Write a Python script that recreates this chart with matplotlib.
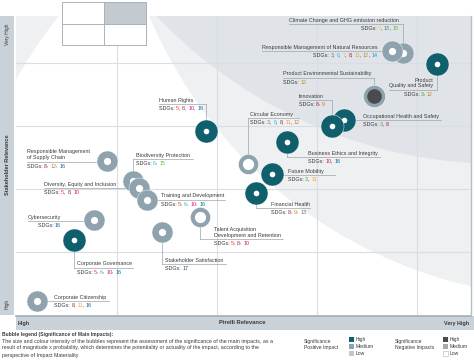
import numpy as np
import matplotlib.pyplot as plt
from matplotlib.patches import Rectangle, Circle

plt.rcParams['font.family'] = ['Liberation Sans', 'DejaVu Sans']

# material topics: Pirelli relevance (x) and stakeholder relevance (y)
topics = ["Climate Change", "Natural Resources", "Product Quality", "Product Env. Sust.",
          "Occupational H&S", "Innovation", "Human Rights", "Circular Economy",
          "Business Ethics", "Future Mobility", "Financial Health", "Talent Acquisition",
          "Stakeholder Satisfaction", "Biodiversity", "Diversity", "Training",
          "Supply Chain", "Cybersecurity", "Corporate Governance", "Corporate Citizenship"]
pirelli = [3.86, 3.75, 4.20, 3.57, 3.27, 3.15, 1.89, 2.31, 2.70, 2.55,
           2.39, 1.83, 1.45, 1.16, 1.22, 1.30, 0.90, 0.77, 0.57, 0.20]
stakeholder = [4.16, 4.19, 3.98, 3.48, 3.10, 3.00, 2.92, 2.40, 2.75, 2.24,
               1.94, 1.56, 1.32, 2.13, 2.02, 1.83, 2.44, 1.51, 1.19, 0.22]
significance = ["medium", "medium", "high", "negative", "high", "high", "high", "low",
                "high", "high", "high", "low", "medium", "medium", "medium", "medium",
                "medium", "medium", "high", "medium"]
sdgs = [[7, 13, 15], [3, 6, 7, 8, 11, 12, 14], [3, 12], [12], [3, 8], [8, 9],
        [5, 8, 10, 16], [3, 6, 8, 11, 12], [10, 16], [3, 11], [8, 9, 13], [5, 8, 10],
        [17], [6, 15], [5, 8, 10], [5, 6, 10, 16], [8, 12, 16], [16], [5, 6, 10, 16],
        [8, 11, 16]]

SDG_COL = {3: '#4C9F38', 5: '#FF3A21', 6: '#26BDE2', 7: '#FCC30B', 8: '#A21942',
           9: '#FD6925', 10: '#DD1367', 11: '#FD9D24', 12: '#BF8B2E', 13: '#5b7f60',
           14: '#0A97D9', 15: '#56C02B', 16: '#00689D', 17: '#19486A'}
# ring colour, outer radius px, hole colour, hole radius px
STYLE = {'high': ('#0f5f6d', 11.5, 'white', 2.8),
         'medium': ('#8ea3ad', 10.5, 'white', 3.6),
         'low': ('#8ea3ad', 10.0, 'white', 5.6),
         'negative': ('#8ea3ad', 11.0, '#4b4b4d', 7.3)}

# label layout (pixels): title lines, x, y of first line, align, sdg x, sdg align, underline span
LABELS = [
    (["Climate Change and GHG emission reduction"], 289, 20.7, 'left', 399, 'right', 289, 403),
    (["Responsible Management of Natural Resources"], 262, 47.3, 'left', 378, 'right', 262, 382),
    (["Product", "Quality and Safety"], 433, 80, 'right', 433, 'right', 389, 437),
    (["Product Environmental Sustainability"], 283, 74, 'left', 283, 'left', 283, 374),
    (["Occupational Health and Safety"], 363, 116.5, 'left', 363, 'left', 344, 441),
    (["Innovation"], 299, 96, 'left', 299, 'left', 299, 332),
    (["Human Rights"], 159, 100.5, 'left', 159, 'left', 159, 206),
    (["Circular Economy"], 250, 114.5, 'left', 250, 'left', 248, 299),
    (["Business Ethics and Integrity"], 308, 153.5, 'left', 308, 'left', 287, 380),
    (["Future Mobility"], 288, 171.5, 'left', 288, 'left', 272, 335),
    (["Financial Health"], 271, 204, 'left', 271, 'left', 256, 310),
    (["Talent Acquisition", "Development and Retention"], 214, 229, 'left', 214, 'left', 200, 283),
    (["Stakeholder Satisfaction"], 165, 260.5, 'left', 165, 'left', 162, 226),
    (["Biodiversity Protection"], 136, 155, 'left', 136, 'left', 133, 193),
    (["Diversity, Equity and Inclusion"], 44, 184.5, 'left', 44, 'left', 44, 139),
    (["Training and Development"], 161, 196, 'left', 161, 'left', 147, 225),
    (["Responsible Management", "of Supply Chain"], 27, 152, 'left', 27, 'left', 27, 107),
    (["Cybersecurity"], 28, 217, 'left', 61, 'right', 28, 94),
    (["Corporate Governance"], 77, 264, 'left', 77, 'left', 74, 133),
    (["Corporate Citizenship"], 54, 297.5, 'left', 54, 'left', 37, 109),
]

TXT = '#3a3a3a'
LIGHT = '#eef0f2'
DARK = '#e0e4e8'
BAND = '#c9d2d8'
FS = 3.9

fig = plt.figure(figsize=(4.74, 3.61), dpi=100)
deco = fig.add_axes([0, 0, 1, 1])
deco.set_xlim(0, 474)
deco.set_ylim(361, 0)
deco.axis('off')

# background zones
area = Rectangle((16, 16), 455, 299, fc=LIGHT, ec='none')
deco.add_patch(area)
for (cx, cy, r, c) in [(421, 306, 464, 'white'), (574, -163, 461, LIGHT), (501, -311, 475, DARK)]:
    circ = Circle((cx, cy), r, fc=c, ec='none')
    deco.add_patch(circ)
    circ.set_clip_path(area)

deco.add_patch(Rectangle((0, 16), 14.5, 299, fc=BAND, ec='none'))
deco.add_patch(Rectangle((16, 316), 458, 14, fc=BAND, ec='none'))
deco.plot([16, 471], [315.5, 315.5], color='#a3aeb5', lw=1.2)
deco.plot([471, 471], [16, 315.5], color='#b5bec4', lw=1.0)

deco.text(7.5, 34, "Very High", rotation=90, ha='center', va='center', fontsize=3.5, color=TXT)
deco.text(7.5, 165, "Stakeholder Relevance", rotation=90, ha='center', va='center',
          fontsize=4.0, color=TXT, fontweight='bold')
deco.text(7.5, 304, "High", rotation=90, ha='center', va='center', fontsize=3.5, color=TXT)
deco.text(18, 323, "High", ha='left', va='center', fontsize=3.9, color=TXT, fontweight='bold')
deco.text(242, 323, "Pirelli Relevance", ha='center', va='center', fontsize=4.2, color=TXT,
          fontweight='bold')
deco.text(469, 323, "Very High", ha='right', va='center', fontsize=3.9, color=TXT,
          fontweight='bold')

# bottom notes
deco.text(2, 334.5, "Bubble legend (Significance of Main Impacts):", ha='left', va='center',
          fontsize=3.6, color=TXT, fontweight='bold')
para = ["The size and colour intensity of the bubbles represent the assessment of the significance of the main impacts, as a",
        "result of magnitude x probability, which determines the potentiality or actuality of the impact, according to the",
        "perspective of Impact Materiality"]
for i, line in enumerate(para):
    deco.text(2, 341 + 7 * i, line, ha='left', va='center', fontsize=3.75, color=TXT)

for x0, head, sq_x, cols in [(304, "Positive Impact", 349, ['#0f5f6d', '#8ea3ad', '#bccad1']),
                             (395, "Negative Impacts", 443, ['#4b4b4d', '#a9a9a9', 'white'])]:
    deco.text(x0, 342, "Significance", ha='left', va='center', fontsize=3.6, color=TXT)
    deco.text(x0, 348, head, ha='left', va='center', fontsize=3.6, color=TXT)
    for j, (name, c) in enumerate(zip(["High", "Medium", "Low"], cols)):
        deco.add_patch(Rectangle((sq_x, 337 + 7 * j), 5, 5, fc=c,
                                 ec='#b0b0b0' if c == 'white' else 'none', lw=0.4))
        deco.text(sq_x + 7, 339.5 + 7 * j, name, ha='left', va='center', fontsize=3.6, color=TXT)

# main plot axes
ax = fig.add_axes([16 / 474, 46 / 361, 455 / 474, 299 / 361])
ax.set_facecolor('none')
ax.set_xlim(-0.01, 4.54)
ax.set_ylim(0, 4.746)
ax.set_xticks([1, 2, 3, 4])
ax.set_yticks([1, 2, 3, 4])
ax.tick_params(length=0, labelbottom=False, labelleft=False)
for s in ax.spines.values():
    s.set_visible(False)
ax.grid(True, color='#d9dee2', lw=0.8)
ax.set_axisbelow(True)

# legend box at top
tr = deco.transData
ax.add_patch(Rectangle((62, 2), 84, 43, fc='white', ec='#aab3b9', lw=0.7,
                       transform=tr, clip_on=False, zorder=6))
ax.add_patch(Rectangle((104, 2), 42, 21.5, fc='#c3cbd1', ec='#aab3b9', lw=0.7,
                       transform=tr, clip_on=False, zorder=6))
ax.plot([62, 146], [23.5, 23.5], color='#aab3b9', lw=0.7, transform=tr, clip_on=False, zorder=7)
ax.plot([104, 104], [2, 45], color='#aab3b9', lw=0.7, transform=tr, clip_on=False, zorder=7)

to_px = deco.transData.inverted()


def sdg_line(x, y, nums, ha):
    pieces = [("SDGs: ", TXT)]
    for k, n in enumerate(nums):
        if k:
            pieces.append((", ", TXT))
        pieces.append((str(n), SDG_COL[n]))
    kw = dict(fontsize=FS, clip_on=False, zorder=8)
    if ha == 'left':
        prev = ax.text(x, y, pieces[0][0], color=pieces[0][1], transform=tr,
                       ha='left', va='center', **kw)
        for s, c in pieces[1:]:
            prev = ax.annotate(s, xy=(1, 0), xycoords=prev, ha='left', va='bottom',
                               color=c, **kw)
    else:
        prev = ax.text(x, y, pieces[-1][0], color=pieces[-1][1], transform=tr,
                       ha='right', va='center', **kw)
        for s, c in pieces[-2::-1]:
            prev = ax.annotate(s, xy=(0, 0), xycoords=prev, ha='right', va='bottom',
                               color=c, **kw)


fig.canvas.draw()
for i in range(len(topics)):
    bx, by = to_px.transform(ax.transData.transform((pirelli[i], stakeholder[i])))
    lines, tx, ty, ha, sx, sha, u0, u1 = LABELS[i]
    uy = ty + 6 * (len(lines) - 1) + 3.6
    ax.plot([min(u0, u1, bx), max(u0, u1, bx)], [uy, uy], color='#9aa5ac', lw=0.5,
            transform=tr, clip_on=False, zorder=3)
    ax.plot([bx, bx], [uy, by], color='#9aa5ac', lw=0.5, transform=tr, clip_on=False, zorder=3)
    for k, line in enumerate(lines):
        ax.text(tx, ty + 6 * k, line, ha=ha, va='center', fontsize=FS, color=TXT,
                transform=tr, clip_on=False, zorder=8)
    sdg_line(sx, uy + 4.6, sdgs[i], sha)

# bubbles
for i in range(len(topics)):
    ring, r, hole, hr = STYLE[significance[i]]
    ax.scatter(pirelli[i], stakeholder[i], s=(2 * r * 0.72) ** 2, color=ring,
               edgecolors='white', linewidths=0.3, zorder=4 + 0.01 * i)
    ax.scatter(pirelli[i], stakeholder[i], s=(2 * hr * 0.72) ** 2, color=hole,
               linewidths=0, zorder=4 + 0.01 * i + 0.005)

fig.savefig('out.png', dpi=100)
